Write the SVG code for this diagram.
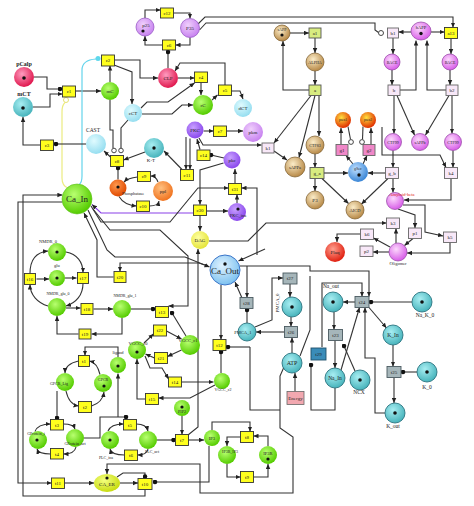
<svg xmlns="http://www.w3.org/2000/svg" width="474" height="506" viewBox="0 0 474 506">
<defs>
<marker id="a" viewBox="0 0 10 10" refX="10" refY="5" markerWidth="5" markerHeight="5" orient="auto" markerUnits="userSpaceOnUse"><path d="M0,0.5 L10,5 L0,9.5 z" fill="#222"/></marker>
<marker id="d" viewBox="0 0 10 10" refX="5" refY="5" markerWidth="5" markerHeight="5" markerUnits="userSpaceOnUse"><circle cx="5" cy="5" r="4.5" fill="#111"/></marker>
<radialGradient id="gG" cx="40%" cy="35%" r="65%"><stop offset="0" stop-color="#b8ff70"/><stop offset="1" stop-color="#55cc00"/></radialGradient>
<radialGradient id="gT" cx="40%" cy="35%" r="65%"><stop offset="0" stop-color="#a8eef2"/><stop offset="1" stop-color="#48b4bc"/></radialGradient>
<radialGradient id="gM" cx="40%" cy="35%" r="65%"><stop offset="0" stop-color="#fcd8fc"/><stop offset="1" stop-color="#d85ee8"/></radialGradient>
<radialGradient id="gP" cx="40%" cy="35%" r="65%"><stop offset="0" stop-color="#c8a0ff"/><stop offset="1" stop-color="#8a48ec"/></radialGradient>
<radialGradient id="gLP" cx="40%" cy="35%" r="65%"><stop offset="0" stop-color="#f0d0fc"/><stop offset="1" stop-color="#c883f0"/></radialGradient>
<radialGradient id="gLC" cx="40%" cy="35%" r="65%"><stop offset="0" stop-color="#e0fbff"/><stop offset="1" stop-color="#96def0"/></radialGradient>
<radialGradient id="gTan" cx="40%" cy="35%" r="65%"><stop offset="0" stop-color="#fbecc8"/><stop offset="1" stop-color="#b88a48"/></radialGradient>
<radialGradient id="gOr" cx="40%" cy="35%" r="65%"><stop offset="0" stop-color="#ff9a50"/><stop offset="1" stop-color="#e04a00"/></radialGradient>
<radialGradient id="gPpl" cx="40%" cy="35%" r="65%"><stop offset="0" stop-color="#ffc080"/><stop offset="1" stop-color="#f07420"/></radialGradient>
<radialGradient id="gR" cx="40%" cy="35%" r="65%"><stop offset="0" stop-color="#ff9cc0"/><stop offset="1" stop-color="#e0184e"/></radialGradient>
<radialGradient id="gY" cx="40%" cy="35%" r="65%"><stop offset="0" stop-color="#ffe040"/><stop offset="1" stop-color="#e03000"/></radialGradient>
<radialGradient id="gB" cx="40%" cy="35%" r="65%"><stop offset="0" stop-color="#c0e0ff"/><stop offset="1" stop-color="#3a86d6"/></radialGradient>
<radialGradient id="gCO" cx="40%" cy="35%" r="65%"><stop offset="0" stop-color="#dff2ff"/><stop offset="1" stop-color="#7ec2f0"/></radialGradient>
<radialGradient id="gPl" cx="40%" cy="35%" r="65%"><stop offset="0" stop-color="#ffa090"/><stop offset="1" stop-color="#e02010"/></radialGradient>
<radialGradient id="gDAG" cx="40%" cy="35%" r="65%"><stop offset="0" stop-color="#ffffa0"/><stop offset="1" stop-color="#e4e43a"/></radialGradient>
<radialGradient id="gER" cx="40%" cy="35%" r="65%"><stop offset="0" stop-color="#f4ff80"/><stop offset="1" stop-color="#c8dc10"/></radialGradient>
</defs>
<style>
.e{fill:none;stroke:#333;stroke-width:1.1}
.ty{fill:#ffff1e;stroke:#333;stroke-width:0.9}
.tg{fill:#a6b6ba;stroke:#4a5a60;stroke-width:0.9}
.tk{fill:#f8e8f8;stroke:#666;stroke-width:0.9}
.tp{fill:#f088c8;stroke:#666;stroke-width:0.9}
.ta{fill:#d8ec80;stroke:#555;stroke-width:0.9}
.g{fill:url(#gG)}
.c{fill:url(#gT);stroke:#2a7480;stroke-width:0.9}
.m{fill:url(#gM);stroke:#9040a0;stroke-width:0.7}
.tn{fill:url(#gTan);stroke:#7a5a2a;stroke-width:0.7}
text{font-family:"Liberation Serif",serif;font-size:5px;fill:#222;text-anchor:middle}
.big{font-size:9px}
.tok{fill:#111}
</style>

<g id="connectors">
<path class="e" d="M34,77 H47 V89 H60" marker-end="url(#d)"/>
<path class="e" d="M33,107 H50 V94 H62.5" marker-end="url(#a)"/>
<path class="e" d="M75.5,91 H101" marker-end="url(#a)"/>
<path class="e" d="M110,82 V65.5" marker-end="url(#a)"/>
<circle cx="66" cy="100" r="2.5" fill="#fff" stroke="#e6e070" stroke-width="1"/>
<path d="M65,102.5 Q62,105 62,112 V178 Q62,186 68,188" fill="none" stroke="#ecec80" stroke-width="1.2"/>
<circle cx="98" cy="58.5" r="2.5" fill="#5fd8ec"/>
<path d="M96,59 Q82,60 82,70 V176 Q82,183 79,184.5" fill="none" stroke="#64d4ec" stroke-width="1.2"/>
<path class="e" d="M114.5,60 H140 V78 H158" marker-end="url(#a)"/>
<path class="e" d="M114,65 L132,72 V104" marker-end="url(#a)"/>
<path class="e" d="M141,108 L147,102 H168 L194.5,83" marker-end="url(#a)"/>
<path class="e" d="M142,114 H172 L182,105 H193" marker-end="url(#a)"/>
<path class="e" d="M178,78 H194.5" marker-end="url(#a)"/>
<path class="e" d="M201,82.5 V95" marker-end="url(#a)"/>
<path class="e" d="M212,100 L217.5,95" marker-end="url(#a)"/>
<path class="e" d="M225,85 V63 H180 L175,71" marker-end="url(#a)"/>
<path class="e" d="M229.5,91 H240 L243,99" marker-end="url(#a)"/>
<path class="e" d="M173.5,13 H190 V18.5" marker-end="url(#a)"/>
<path class="e" d="M145,18 V10 H160.5" marker-end="url(#a)"/>
<path class="e" d="M162.5,45 H145 V36" marker-end="url(#a)"/>
<path class="e" d="M190,37.5 V45 H175.5" marker-end="url(#a)"/>
<path class="e" d="M168,68 V52" marker-end="url(#d)"/>
<path class="e" d="M198,24 L205,17 H453 V27.5" marker-end="url(#a)"/>
<path class="e" d="M199.5,30 L206,23 H375 V30 L378.5,32.5"/>
<circle cx="381" cy="33" r="2.5" fill="#fff" stroke="#333" stroke-width="0.9"/>
<path class="e" d="M86,144 H56" marker-end="url(#d)"/>
<path class="e" d="M40.5,145 H23 V117" marker-end="url(#a)"/>
<path class="e" d="M110,100 V130 H113 V148"/>
<circle cx="114" cy="150.5" r="2.3" fill="#fff" stroke="#333" stroke-width="0.9"/>
<path class="e" d="M128,120 L121,128 V148"/>
<circle cx="121" cy="150.5" r="2.3" fill="#fff" stroke="#333" stroke-width="0.9"/>
<path class="e" d="M110.5,157 L104,151" marker-end="url(#a)"/>
<path class="e" d="M145,152 L123.5,160" marker-end="url(#a)"/>
<path class="e" d="M118,179.5 V168" marker-end="url(#d)"/>
<path class="e" d="M137.5,177 Q128,178 124,182" marker-end="url(#a)"/>
<path class="e" d="M158,182 Q156,176 150.5,176" marker-end="url(#a)"/>
<path class="e" d="M119,196.5 Q124,205 136.5,206" marker-end="url(#a)"/>
<path class="e" d="M149.5,206 Q158,206 159,201" marker-end="url(#a)"/>
<path class="e" d="M203.5,131 H213.5" marker-end="url(#a)"/>
<path class="e" d="M226.5,131 H243" marker-end="url(#a)"/>
<path class="e" d="M224,158 L211,155" marker-end="url(#d)"/>
<path class="e" d="M200,149.5 L197,139" marker-end="url(#a)"/>
<path class="e" d="M186,137 V169.5" marker-end="url(#a)"/>
<path class="e" d="M190,138.5 V169.5" marker-end="url(#a)"/>
<path class="e" d="M182,169.5 L164,151" marker-end="url(#a)"/>
<path class="e" d="M223.5,163 L200,170 V204.5" marker-end="url(#a)"/>
<path class="e" d="M235,183.5 V169" marker-end="url(#a)"/>
<path class="e" d="M237,203 V194.5" marker-end="url(#a)"/>
<path class="e" d="M206.5,211 H228" marker-end="url(#a)"/>
<path class="e" d="M200,215.5 V231" marker-end="url(#a)"/>
<path class="e" d="M257,255 V188 H241.5" marker-end="url(#a)"/>
<path d="M193.5,213 H101 L92,204.5" fill="none" stroke="#8a40e8" stroke-width="1.1" marker-end="url(#a)"/>
<path class="e" d="M91,206 L101,222 H170 L198,188 H228.5" marker-end="url(#a)"/>
<path class="e" d="M199,138 L203,145 H261.5" marker-end="url(#a)"/>
<path class="e" d="M290,33 H309" marker-end="url(#a)"/>
<path class="e" d="M315,38 V53" marker-end="url(#a)"/>
<path class="e" d="M315,71 V85" marker-end="url(#a)"/>
<path class="e" d="M309,90 H283 V41" marker-end="url(#a)"/>
<path class="e" d="M411,32 H398.5" marker-end="url(#a)"/>
<path class="e" d="M431,32 H444.5" marker-end="url(#a)"/>
<path class="e" d="M393,38 V54" marker-end="url(#a)"/>
<path class="e" d="M392,70 V85" marker-end="url(#a)"/>
<path class="e" d="M400,90 H416 V40.5" marker-end="url(#a)"/>
<path class="e" d="M451,38.5 V54" marker-end="url(#a)"/>
<path class="e" d="M450,70 V85" marker-end="url(#a)"/>
<path class="e" d="M446,90 H427 V40.5" marker-end="url(#a)"/>
<path class="e" d="M394,95.5 V133.5" marker-end="url(#a)"/>
<path class="e" d="M397,95.5 L414.5,135" marker-end="url(#a)"/>
<path class="e" d="M449,95.5 L425.5,135" marker-end="url(#a)"/>
<path class="e" d="M452,95.5 V133.5" marker-end="url(#a)"/>
<path class="e" d="M311,95.5 L274,143" marker-end="url(#a)"/>
<path class="e" d="M315,95.5 L299,157.5" marker-end="url(#a)"/>
<path class="e" d="M319,95.5 V136" marker-end="url(#a)"/>
<path class="e" d="M274,151 L287,160" marker-end="url(#a)"/>
<path class="e" d="M315,154 V167.5" marker-end="url(#a)"/>
<path class="e" d="M315,178.5 V191" marker-end="url(#a)"/>
<path class="e" d="M322,178.5 L348.5,203.5" marker-end="url(#a)"/>
<path class="e" d="M323.5,173 H348" marker-end="url(#a)"/>
<path class="e" d="M353,164 L346,155.5" marker-end="url(#a)"/>
<path class="e" d="M363,164 L367,155.5" marker-end="url(#a)"/>
<path class="e" d="M341,144.5 V128" marker-end="url(#a)"/>
<path class="e" d="M348,126.5 L350.5,139.5"/>
<circle cx="351" cy="142" r="2.4" fill="#fff" stroke="#333" stroke-width="0.9"/>
<path class="e" d="M371,144.5 V128" marker-end="url(#a)"/>
<path class="e" d="M363,126.5 L362.5,139.5"/>
<circle cx="362" cy="142" r="2.4" fill="#fff" stroke="#333" stroke-width="0.9"/>
<path class="e" d="M393,150.5 V167.5" marker-end="url(#a)"/>
<path class="e" d="M385.5,173 H368" marker-end="url(#a)"/>
<path class="e" d="M388,178.5 L361.5,204" marker-end="url(#a)"/>
<path class="e" d="M393,178.5 V192.5" marker-end="url(#a)"/>
<path class="e" d="M453,150.5 V167.5" marker-end="url(#a)"/>
<path class="e" d="M382,127 V155 H440 L446,167.5" marker-end="url(#a)"/>
<path class="e" d="M451,178.5 V200 H404" marker-end="url(#a)"/>
<path class="e" d="M403,205 H425 V232 L443,236" marker-end="url(#a)"/>
<path class="e" d="M398,209 L415,215 V228" marker-end="url(#a)"/>
<path class="e" d="M413,238.5 L404.5,245.5" marker-end="url(#a)"/>
<path class="e" d="M450,242.5 V253 H407" marker-end="url(#a)"/>
<path class="e" d="M396,243 V228.5" marker-end="url(#a)"/>
<path class="e" d="M390,247 L373.5,238" marker-end="url(#a)"/>
<path class="e" d="M360.5,234 H337 V242" marker-end="url(#a)"/>
<path class="e" d="M389,252 H373" marker-end="url(#a)"/>
<path class="e" d="M209,241 H248 L266,223 H386.5" marker-end="url(#a)"/>
<path class="e" d="M221,285 V339.5" marker-end="url(#a)"/>
<path class="e" d="M221,373 V352" marker-end="url(#d)"/>
<path class="e" d="M250,347 V410 H280"/>
<path class="e" d="M250,347 H228" marker-end="url(#d)"/>
<path class="e" d="M284,367 L280,376 V428 L293,437 V493 H200 V464 H107 V474" marker-end="url(#a)"/>
<path class="e" d="M290,283.5 V297" marker-end="url(#a)"/>
<path class="e" d="M291,317 V326.5" marker-end="url(#a)"/>
<path class="e" d="M284.5,332 H256" marker-end="url(#a)"/>
<path class="e" d="M292,353 V337.5" marker-end="url(#a)"/>
<path class="e" d="M247,323 V310" marker-end="url(#d)"/>
<path class="e" d="M242,298 L235,282" marker-end="url(#a)"/>
<path class="e" d="M240,266 H310 V271 H369 V296.5" marker-end="url(#a)"/>
<path class="e" d="M247,266 V297.5" marker-end="url(#a)"/>
<path class="e" d="M255,327 L272,320 V278 H283" marker-end="url(#a)"/>
<path class="e" d="M265,249 L238.5,261" marker-end="url(#a)"/>
<path class="e" d="M295,391.5 V373" marker-end="url(#a)"/>
<path class="e" d="M300,356 L310,330 V276" />
<path class="e" d="M322,347 V283 H362 V296.5" marker-end="url(#a)"/>
<path class="e" d="M335,388 V410 H311 V365" marker-end="url(#d)"/>
<path class="e" d="M355,302 H343" marker-end="url(#a)"/>
<path class="e" d="M412,302 H371" marker-end="url(#d)"/>
<path class="e" d="M334,312 V329.5" marker-end="url(#a)"/>
<path class="e" d="M335,340.5 V368" marker-end="url(#a)"/>
<path class="e" d="M355,371 L344,346" marker-end="url(#d)"/>
<path class="e" d="M341,370 L359.5,307.5" marker-end="url(#a)"/>
<path class="e" d="M369,307.5 L386.5,328" marker-end="url(#a)"/>
<path class="e" d="M393,345 V366.5" marker-end="url(#a)"/>
<path class="e" d="M417,372 H403" marker-end="url(#d)"/>
<path class="e" d="M394,377.5 V403" marker-end="url(#a)"/>
<path class="e" d="M385,413 H375 V358 H365 V307.5" marker-end="url(#a)"/>
<path class="e" d="M30,273.5 C30,258 38,252 48,251" marker-end="url(#a)"/>
<path class="e" d="M66,252 C77,254 83,262 83,272.5" marker-end="url(#a)"/>
<path class="e" d="M36.5,279 H49" marker-end="url(#a)"/>
<path class="e" d="M65,278 H76.5" marker-end="url(#a)"/>
<path class="e" d="M83,283.5 C83,295 76,303 66,306" marker-end="url(#a)"/>
<path class="e" d="M48,306 C38,303 30,295 30,284.5" marker-end="url(#a)"/>
<path class="e" d="M66,308 H80.5" marker-end="url(#a)"/>
<path class="e" d="M93.5,309 H113" marker-end="url(#a)"/>
<path class="e" d="M122,318 V334 H91.5" marker-end="url(#a)"/>
<path class="e" d="M78.5,334 H57 V316" marker-end="url(#a)"/>
<path class="e" d="M131,309 H153" marker-end="url(#d)"/>
<path class="e" d="M208,266 L199,263 H120 V271.5" marker-end="url(#a)"/>
<path class="e" d="M113.5,277 H97 V240 L84,213" marker-end="url(#a)"/>
<path class="e" d="M88,210 L107,250 L115,257 H185 L209.5,267" marker-end="url(#a)"/>
<path class="e" d="M93,209 L110,230 H160 L188,256 V306 H168.5" marker-end="url(#a)"/>
<path class="e" d="M144,343 L153.5,334" marker-end="url(#a)"/>
<path class="e" d="M154.5,358 L145.5,354" marker-end="url(#a)"/>
<path class="e" d="M166.5,331 L181.5,339" marker-end="url(#a)"/>
<path class="e" d="M181.5,350 L167.5,356.5" marker-end="url(#a)"/>
<path class="e" d="M186,336 L172,313" marker-end="url(#d)"/>
<path class="e" d="M145,356 L150,368 H162 L168.5,379" marker-end="url(#a)"/>
<path class="e" d="M181.5,382 H213.5" marker-end="url(#a)"/>
<path class="e" d="M215,385 L190,398 H158.5" marker-end="url(#a)"/>
<path class="e" d="M145.5,399 H137 V359" marker-end="url(#a)"/>
<path class="e" d="M118,357 V347 H85 V355.5" marker-end="url(#a)"/>
<path class="e" d="M78.5,361 C70,363 65,367 65,373" marker-end="url(#a)"/>
<path class="e" d="M100,374.5 C98,366 94,362 89.5,361" marker-end="url(#a)"/>
<path class="e" d="M66,391 C68,400 72,405 78.5,406" marker-end="url(#a)"/>
<path class="e" d="M91.5,406 C98,404 103,399 104,392" marker-end="url(#a)"/>
<path class="e" d="M57,391 V418" marker-end="url(#d)"/>
<path class="e" d="M35,431.5 C37,426 44,424 50.5,424" marker-end="url(#a)"/>
<path class="e" d="M63.5,424 C70,424 74,426 75,429" marker-end="url(#a)"/>
<path class="e" d="M76,447 C75,452 70,454 63.5,454" marker-end="url(#a)"/>
<path class="e" d="M50.5,454 C43,454 38,452 37,449" marker-end="url(#a)"/>
<path class="e" d="M84,438 H100 V417 H126" marker-end="url(#d)"/>
<path class="e" d="M118,417 V373.5" marker-end="url(#a)"/>
<path class="e" d="M108,431 C110,426 116,424 123.5,424" marker-end="url(#a)"/>
<path class="e" d="M136.5,424 C143,424 147,427 148,431" marker-end="url(#a)"/>
<path class="e" d="M148,449 C147,454 142,455 137.5,455" marker-end="url(#a)"/>
<path class="e" d="M124.5,455 C116,455 111,453 110,449" marker-end="url(#a)"/>
<path class="e" d="M157,440 H173.5" marker-end="url(#d)"/>
<path class="e" d="M182,416 V434.5" marker-end="url(#a)"/>
<path class="e" d="M188.5,440 H204" marker-end="url(#a)"/>
<path class="e" d="M188,435 L198,427 V249" marker-end="url(#a)"/>
<path class="e" d="M212,430 V422 H250 V431.5" marker-end="url(#a)"/>
<path class="e" d="M240.5,437 H227 V446" marker-end="url(#a)"/>
<path class="e" d="M268,446 V436 H253.5" marker-end="url(#a)"/>
<path class="e" d="M227,464 V477 H240.5" marker-end="url(#a)"/>
<path class="e" d="M253.5,477 H268 V464" marker-end="url(#a)"/>
<path class="e" d="M209,446 V482 H155" marker-end="url(#d)"/>
<path class="e" d="M64.5,483 H94" marker-end="url(#a)"/>
<path class="e" d="M120,483 H138" marker-end="url(#a)"/>
<path class="e" d="M117,477 L123,473 H145 V476.5" marker-end="url(#d)"/>
<path class="e" d="M145,489.5 V496 H23 V195 H62.4" marker-end="url(#a)"/>
<path class="e" d="M62.4,202 H18 V483 H51.5" marker-end="url(#a)"/>
</g>

<g id="nodes">
<g id="pCalp"><circle cx="24" cy="77" r="10" fill="url(#gR)"/><circle class="tok" cx="24" cy="78" r="1.8"/><text x="24" y="66" style="font-size:6px;font-weight:bold">pCalp</text></g>
<g id="mCT"><circle cx="23" cy="107" r="10" fill="url(#gT)"/><circle class="tok" cx="23" cy="108" r="1.8"/><text x="24" y="96" style="font-size:6px;font-weight:bold">mCT</text></g>
<g id="c1"><rect class="ty" x="62.5" y="86" width="13" height="11"/><text x="69" y="93">c1</text></g>
<g id="mC"><circle class="g" cx="110" cy="91" r="9"/><text x="110" y="93">mC</text></g>
<g id="c2"><rect class="ty" x="101.5" y="55" width="13" height="11"/><text x="108" y="62">c2</text></g>
<g id="cCT"><circle cx="133" cy="113" r="9" fill="url(#gLC)"/><text x="133" y="115">cCT</text></g>
<g id="p25"><circle cx="145" cy="27" r="9" fill="url(#gLP)" stroke="#9050c0" stroke-width="0.7"/><circle class="tok" cx="143" cy="31" r="1.6"/><text x="146" y="27">p25</text></g>
<g id="c12"><rect class="ty" x="160.5" y="8" width="13" height="10"/><text x="167" y="15">c12</text></g>
<g id="P35"><circle cx="190" cy="28" r="9.5" fill="url(#gLP)" stroke="#9050c0" stroke-width="0.7"/><text x="190" y="30">P35</text></g>
<g id="c6"><rect class="ty" x="162.5" y="40" width="13" height="10"/><text x="169" y="47">c6</text></g>
<g id="CLP"><circle cx="168" cy="78" r="10" fill="url(#gR)"/><text x="168" y="80">CLP</text></g>
<g id="c4"><rect class="ty" x="194.5" y="72" width="13" height="10.5"/><text x="201" y="79">c4</text></g>
<g id="c5"><rect class="ty" x="218.5" y="85" width="13" height="10.5"/><text x="225" y="92">c5</text></g>
<g id="rC"><circle class="g" cx="203" cy="105" r="10"/><text x="203" y="107">rC</text></g>
<g id="dCT"><circle cx="243" cy="108" r="9" fill="url(#gLC)"/><text x="243" y="110">dCT</text></g>
<g id="c3"><rect class="ty" x="40.5" y="140" width="13" height="10.5"/><text x="47" y="147">c3</text></g>
<g id="CAST"><circle cx="96" cy="144" r="10" fill="url(#gLC)"/><text x="93" y="132" style="font-size:5.5px">CAST</text></g>
<g id="KT"><circle cx="154" cy="148" r="10" fill="url(#gT)"/><circle class="tok" cx="154" cy="148" r="1.7"/><text x="151" y="162">K-T</text></g>
<g id="c8"><rect class="ty" x="110.5" y="155.5" width="13" height="11"/><text x="117" y="163">c8</text></g>
<g id="Phosphatase"><circle cx="118" cy="188" r="8.5" fill="url(#gOr)"/><circle class="tok" cx="118" cy="187" r="1.6"/><text x="133" y="195" style="font-size:4.5px">Phosphatase</text></g>
<g id="c9"><rect class="ty" x="137.5" y="171.5" width="13" height="10"/><text x="144" y="178">c9</text></g>
<g id="c10"><rect class="ty" x="136.5" y="201" width="13" height="10.5"/><text x="143" y="208">c10</text></g>
<g id="ppl"><circle cx="163" cy="191" r="10" fill="url(#gPpl)"/><text x="163" y="193">ppl</text></g>
<g id="Ca_In"><circle cx="77" cy="199" r="15" fill="url(#gG)" stroke="#60c020" stroke-width="0.6"/><text x="77" y="202" class="big">Ca_In</text></g>
<g id="PKC"><circle cx="195" cy="130" r="8.5" fill="url(#gP)"/><text x="195" y="132">PKC</text></g>
<g id="c7"><rect class="ty" x="213.5" y="126" width="13" height="10.5"/><text x="220" y="133">c7</text></g>
<g id="pkm"><circle cx="253" cy="132" r="10" fill="url(#gLP)"/><text x="253" y="134">pkm</text></g>
<g id="c14"><rect class="ty" x="197" y="150" width="13" height="10.5"/><text x="203.5" y="157">c14</text></g>
<g id="pkc"><circle cx="232" cy="160" r="8.5" fill="url(#gP)"/><text x="232" y="162">pkc</text></g>
<g id="c11"><rect class="ty" x="180.5" y="169.5" width="13" height="11"/><text x="187" y="177">c11</text></g>
<g id="t31"><rect class="ty" x="228.5" y="183.5" width="13" height="11"/><text x="235" y="191">t31</text></g>
<g id="c30"><rect class="ty" x="193.5" y="205" width="13" height="10.5"/><text x="200" y="212">c30</text></g>
<g id="PKC_ina"><circle cx="237" cy="212" r="9" fill="url(#gP)"/><circle class="tok" cx="238" cy="209" r="1.6"/><text x="238" y="217" style="font-size:4.5px">PKC_ina</text></g>
<g id="DAG"><circle cx="200" cy="240" r="9" fill="url(#gDAG)"/><text x="200" y="242">DAG</text></g>
<g id="sAPP"><circle cx="282" cy="33" r="8" fill="url(#gTan)" stroke="#7a5a2a" stroke-width="0.7"/><circle class="tok" cx="282" cy="35" r="1.6"/><text x="282" y="31" style="font-size:4px">sAPP</text></g>
<g id="a1"><rect class="ta" x="309" y="28" width="12" height="10"/><text x="315" y="35">a1</text></g>
<g id="ALPHA"><circle class="tn" cx="315" cy="62" r="9"/><text x="315" y="64" style="font-size:4px">ALPHA</text></g>
<g id="a"><rect class="ta" x="309" y="85" width="12" height="10.5"/><text x="315" y="92">a</text></g>
<g id="b1"><rect class="tk" x="387.5" y="28" width="11" height="10"/><text x="393" y="35">b1</text></g>
<g id="hAPP"><ellipse class="m" cx="421" cy="31" rx="10" ry="9"/><circle class="tok" cx="421" cy="33.5" r="1.7"/><text x="421" y="29" style="font-size:4.5px">hAPP</text></g>
<g id="a13"><rect class="ty" x="444.5" y="27.5" width="13" height="11"/><text x="451" y="35">a13</text></g>
<g id="BACE1"><circle class="m" cx="392" cy="62" r="8"/><text x="392" y="64" style="font-size:4px">BACE</text></g>
<g id="BACE2"><circle class="m" cx="450" cy="62" r="8"/><text x="450" y="64" style="font-size:4px">BACE</text></g>
<g id="b"><rect class="tk" x="388" y="85" width="12" height="10.5"/><text x="394" y="92">b</text></g>
<g id="b2"><rect class="tk" x="446" y="85" width="12" height="10.5"/><text x="452" y="92">b2</text></g>
<g id="k1"><rect class="tk" x="262" y="143" width="12" height="10"/><text x="268" y="150">k1</text></g>
<g id="sAPPa"><circle class="tn" cx="295" cy="167" r="10"/><text x="295" y="169" style="font-size:4.5px">sAPPa</text></g>
<g id="CTF83"><circle class="tn" cx="315" cy="145" r="9"/><text x="315" y="147" style="font-size:4px">CTF83</text></g>
<g id="psenA"><circle cx="343" cy="120" r="8" fill="url(#gY)"/><text x="343" y="121" style="font-size:3.5px">psen1</text></g>
<g id="psenB"><circle cx="368" cy="120" r="8" fill="url(#gY)"/><text x="368" y="121" style="font-size:3.5px">psen2</text></g>
<g id="g1"><rect class="tp" x="336" y="144.5" width="12" height="11"/><text x="342" y="152">g1</text></g>
<g id="g2"><rect class="tp" x="363" y="144.5" width="12" height="11"/><text x="369" y="152">g2</text></g>
<g id="CTF99a"><circle class="m" cx="393" cy="142" r="8.5"/><text x="393" y="144" style="font-size:4px">CTF99</text></g>
<g id="sAPPb"><circle class="m" cx="420" cy="142" r="8.5"/><text x="420" y="144" style="font-size:4px">sAPPb</text></g>
<g id="CTF99b"><circle class="m" cx="453" cy="142" r="8.5"/><text x="453" y="144" style="font-size:4px">CTF99</text></g>
<g id="g_a"><rect class="ta" x="310" y="167.5" width="14" height="11"/><text x="317" y="175">g_a</text></g>
<g id="gSec"><circle cx="358" cy="172" r="10" fill="url(#gB)"/><circle class="tok" cx="359" cy="175" r="1.7"/><text x="358" y="170" style="font-size:4px">gSec</text></g>
<g id="g_b"><rect class="tk" x="385.5" y="167.5" width="13" height="11"/><text x="392" y="175">g_b</text></g>
<g id="k4"><rect class="tk" x="444.5" y="167.5" width="13" height="11"/><text x="451" y="175">k4</text></g>
<g id="P3"><circle class="tn" cx="315" cy="200" r="9"/><text x="315" y="202">P3</text></g>
<g id="AICD"><circle class="tn" cx="355" cy="210" r="9"/><text x="355" y="212" style="font-size:4.5px">AICD</text></g>
<g id="Amyloid"><circle class="m" cx="395" cy="201" r="8.5"/><text x="402" y="196" style="font-size:4.5px;fill:#e02020">Amyloid-beta</text></g>
<g id="k3"><rect class="tk" x="386.5" y="218" width="13" height="10.5"/><text x="393" y="225">k3</text></g>
<g id="p1"><rect class="tk" x="408.5" y="228" width="13" height="10.5"/><text x="415" y="235">p1</text></g>
<g id="k5"><rect class="tk" x="443.5" y="232" width="13" height="10.5"/><text x="450" y="239">k5</text></g>
<g id="k6"><rect class="tk" x="360.5" y="229" width="13" height="10.5"/><text x="367" y="236">k6</text></g>
<g id="p2"><rect class="tk" x="360" y="246" width="13" height="10.5"/><text x="366.5" y="253">p2</text></g>
<g id="Oligomer"><circle class="m" cx="398" cy="252" r="9"/><text x="398" y="265" style="font-size:4.5px">Oligomer</text></g>
<g id="Plaq"><circle cx="335" cy="252" r="10" fill="url(#gPl)"/><text x="335" y="254">Plaq</text></g>
<g id="Ca_Out"><circle cx="225" cy="270" r="15" fill="url(#gCO)" stroke="#3a74c8" stroke-width="1"/><circle class="tok" cx="225" cy="264" r="1.7"/><text x="225" y="274" class="big">Ca_Out</text></g>
<g id="t27"><rect class="tg" x="283" y="273" width="14" height="11"/><text x="290" y="280">t27</text></g>
<g id="PMCA_0"><circle class="c" cx="292" cy="307" r="10"/><circle class="tok" cx="292" cy="307" r="1.8"/><text x="0" y="0" transform="translate(279,303) rotate(-90)">PMCA_0</text></g>
<g id="t28"><rect class="tg" x="240" y="297.5" width="13" height="11"/><text x="246.5" y="305">t28</text></g>
<g id="t26"><rect class="tg" x="284.5" y="326.5" width="13" height="11"/><text x="291" y="334">t26</text></g>
<g id="PMCA_1"><circle class="c" cx="247" cy="332" r="9"/><text x="243" y="334" style="font-size:4.5px">PMCA_1</text></g>
<g id="t12"><rect class="ty" x="213" y="339.5" width="13" height="11"/><text x="219.5" y="347">t12</text></g>
<g id="ATP"><circle class="c" cx="292" cy="363" r="10"/><text x="292" y="365" style="font-size:6px">ATP</text></g>
<g id="t29"><rect x="311" y="348" width="15" height="12" fill="#3a8cb8" stroke="#20506a" stroke-width="0.9"/><text x="318.5" y="356">t29</text></g>
<g id="Energy"><rect x="287" y="391.5" width="17" height="13" fill="#f2a8b0" stroke="#666" stroke-width="0.8"/><text x="295.5" y="400">Energy</text></g>
<g id="Na_out"><circle class="c" cx="333" cy="302" r="10"/><circle class="tok" cx="333" cy="302" r="1.8"/><text x="331" y="288" style="font-size:5.5px">Na_out</text></g>
<g id="t24"><rect class="tg" x="355" y="296.5" width="14" height="11"/><text x="362" y="304">t24</text></g>
<g id="Na_K_0"><circle class="c" cx="422" cy="302" r="10"/><circle class="tok" cx="422" cy="302" r="1.8"/><text x="425" y="317" style="font-size:5.5px">Na_K_0</text></g>
<g id="t23"><rect class="tg" x="328.5" y="329.5" width="14" height="11"/><text x="335.5" y="337">t23</text></g>
<g id="K_In"><circle class="c" cx="393" cy="335" r="10"/><text x="393" y="337" style="font-size:5.5px">K_In</text></g>
<g id="Na_In"><circle class="c" cx="335" cy="378" r="10"/><text x="335" y="380" style="font-size:5.5px">Na_In</text></g>
<g id="NCX"><circle class="c" cx="360" cy="380" r="10"/><circle class="tok" cx="360" cy="380" r="1.8"/><text x="359" y="394" style="font-size:5.5px">NCX</text></g>
<g id="t25"><rect class="tg" x="387" y="366.5" width="14" height="11"/><text x="394" y="374">t25</text></g>
<g id="K_0"><circle class="c" cx="427" cy="372" r="10"/><circle class="tok" cx="427" cy="372" r="1.8"/><text x="427" y="389" style="font-size:5.5px">K_0</text></g>
<g id="K_out"><circle class="c" cx="395" cy="413" r="10"/><circle class="tok" cx="395" cy="413" r="1.8"/><text x="393" y="428" style="font-size:5.5px">K_out</text></g>
<g id="NMDR_0"><circle class="g" cx="57" cy="252" r="9"/><circle class="tok" cx="57" cy="252" r="1.6"/><text x="48" y="243" style="font-size:4.5px">NMDR_0</text></g>
<g id="glu"><circle class="g" cx="57" cy="278" r="8"/><circle class="tok" cx="57" cy="278" r="1.6"/><text x="57" y="267" style="font-size:4.5px">glu</text></g>
<g id="t16"><rect class="ty" x="24.5" y="273.5" width="11" height="11"/><text x="30" y="281">t16</text></g>
<g id="t17"><rect class="ty" x="77.5" y="272.5" width="11" height="11"/><text x="83" y="280">t17</text></g>
<g id="NMDR_glu_0"><circle class="g" cx="57" cy="307" r="9"/><text x="58" y="295" style="font-size:4px">NMDR_glu_0</text></g>
<g id="t18"><rect class="ty" x="81" y="303.5" width="12" height="11"/><text x="87" y="311">t18</text></g>
<g id="NMDR_glu_1"><circle class="g" cx="122" cy="309" r="9"/><text x="125" y="297" style="font-size:4px">NMDR_glu_1</text></g>
<g id="t20"><rect class="ty" x="114" y="271.5" width="12" height="11"/><text x="120" y="279">t20</text></g>
<g id="t19"><rect class="ty" x="79" y="329" width="12" height="10"/><text x="85" y="336">t19</text></g>
<g id="t13"><rect class="ty" x="155.5" y="306.5" width="13" height="11"/><text x="162" y="314">t13</text></g>
<g id="t22"><rect class="ty" x="153.5" y="325" width="13" height="11"/><text x="160" y="332">t22</text></g>
<g id="t21"><rect class="ty" x="154.5" y="352.5" width="13" height="11"/><text x="161" y="360">t21</text></g>
<g id="VGCC_c0"><circle class="g" cx="137" cy="350" r="9"/><circle class="tok" cx="137" cy="352" r="1.6"/><text x="138" y="345" style="font-size:4.5px">VGCC_c0</text></g>
<g id="VGCC_c1"><circle class="g" cx="190" cy="345" r="10"/><text x="188" y="342" style="font-size:4.5px">VGCC_c1</text></g>
<g id="t14"><rect class="ty" x="168.5" y="377" width="13" height="10"/><text x="175" y="384">t14</text></g>
<g id="VGCC_c2"><circle class="g" cx="222" cy="381" r="8"/><text x="223" y="391" style="font-size:4px">VGCC_c2</text></g>
<g id="t15"><rect class="ty" x="145.5" y="393.5" width="13" height="11"/><text x="152" y="401">t15</text></g>
<g id="t1"><rect class="ty" x="78.5" y="355.5" width="11" height="11"/><text x="84" y="363">t1</text></g>
<g id="ligand"><circle class="g" cx="118" cy="365" r="8"/><circle class="tok" cx="118" cy="366" r="1.6"/><text x="118" y="354" style="font-size:4.5px">ligand</text></g>
<g id="GPCR_Lig"><circle class="g" cx="65" cy="382" r="9"/><text x="59" y="385" style="font-size:4px">GPCR_Lig</text></g>
<g id="GPCR"><circle class="g" cx="103" cy="383" r="9"/><circle class="tok" cx="104" cy="386" r="1.6"/><text x="103" y="381" style="font-size:4px">GPCR</text></g>
<g id="t2"><rect class="ty" x="78.5" y="401.5" width="13" height="11"/><text x="85" y="409">t2</text></g>
<g id="t3"><rect class="ty" x="50.5" y="419.5" width="13" height="10.5"/><text x="57" y="427">t3</text></g>
<g id="GProtein_i"><circle class="g" cx="38" cy="440" r="9"/><circle class="tok" cx="37" cy="440" r="1.6"/><text x="36" y="435" style="font-size:4px">GProtein_i</text></g>
<g id="GProtein_act"><circle class="g" cx="75" cy="438" r="9"/><text x="75" y="445" style="font-size:4px">GProtein_act</text></g>
<g id="t4"><rect class="ty" x="50.5" y="448.5" width="13" height="10.5"/><text x="57" y="456">t4</text></g>
<g id="t5"><rect class="ty" x="123.5" y="419.5" width="13" height="10.5"/><text x="130" y="427">t5</text></g>
<g id="PLC_ina"><circle class="g" cx="110" cy="440" r="9"/><circle class="tok" cx="110" cy="440" r="1.6"/><text x="106" y="459" style="font-size:4px">PLC_ina</text></g>
<g id="PLC_act"><circle class="g" cx="148" cy="440" r="9"/><text x="152" y="453" style="font-size:4px">PLC_act</text></g>
<g id="t6"><rect class="ty" x="124.5" y="450" width="13" height="10.5"/><text x="131" y="457">t6</text></g>
<g id="t11"><rect class="ty" x="51.5" y="478" width="13" height="10.5"/><text x="58" y="485">t11</text></g>
<g id="CA_ER"><ellipse cx="107" cy="483" rx="13" ry="9" fill="url(#gER)"/><circle class="tok" cx="107" cy="478" r="1.6"/><text x="107" y="486" style="font-size:5px">CA_ER</text></g>
<g id="t10"><rect class="ty" x="138" y="478.5" width="14" height="11"/><text x="145" y="486">t10</text></g>
<g id="PIP2"><circle class="g" cx="182" cy="408" r="8"/><circle class="tok" cx="182" cy="407" r="1.6"/><text x="182" y="413" style="font-size:4px">PIP2</text></g>
<g id="t7"><rect class="ty" x="175.5" y="434.5" width="13" height="11"/><text x="182" y="442">t7</text></g>
<g id="IP3"><circle class="g" cx="212" cy="438" r="8"/><text x="212" y="440" style="font-size:4.5px">IP3</text></g>
<g id="t8"><rect class="ty" x="240.5" y="431.5" width="13" height="11"/><text x="247" y="439">t8</text></g>
<g id="IP3R_IP3"><circle class="g" cx="227" cy="455" r="9"/><text x="230" y="453" style="font-size:4px">IP3R_IP3</text></g>
<g id="IP3R"><circle class="g" cx="268" cy="455" r="9"/><circle class="tok" cx="268" cy="459" r="1.6"/><text x="268" y="455" style="font-size:4.5px">IP3R</text></g>
<g id="t9"><rect class="ty" x="240.5" y="471.5" width="13" height="11"/><text x="247" y="479">t9</text></g>
</g>
</svg>
